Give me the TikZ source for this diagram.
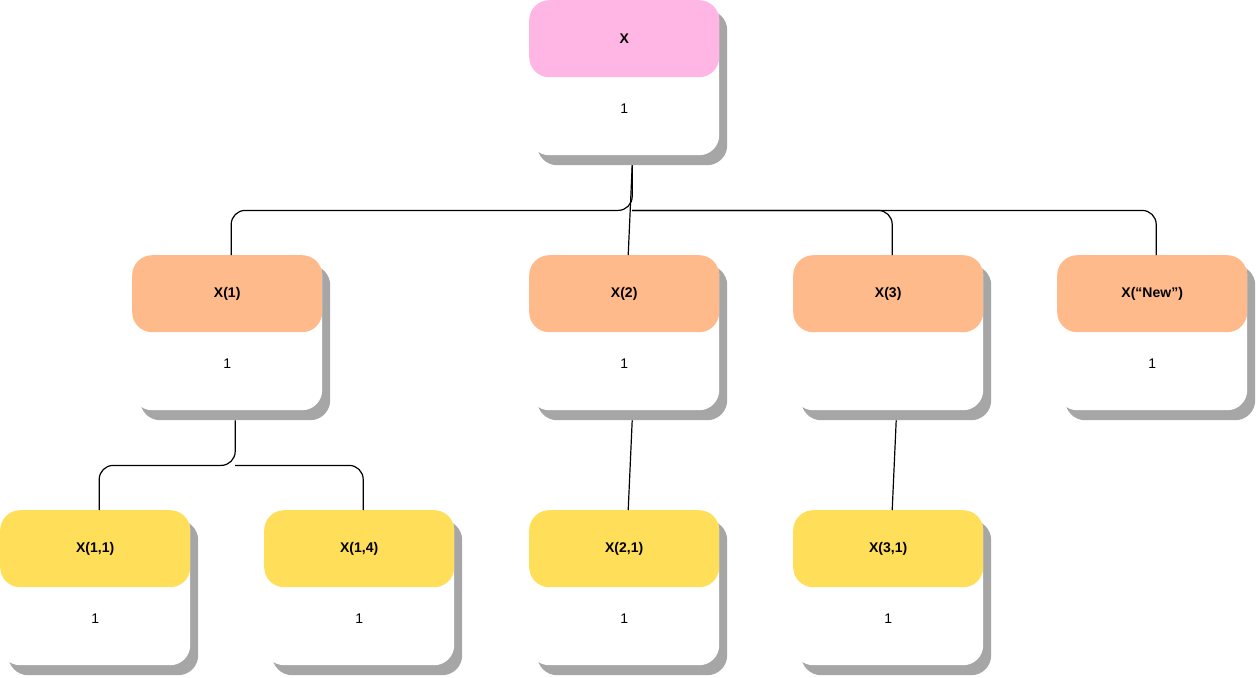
\documentclass[tikz,border=0pt]{standalone}
\usepackage{fontspec}
\setmainfont{Liberation Sans}
\usetikzlibrary{calc}
\definecolor{pinkh}{HTML}{FFB6E4}
\definecolor{orangeh}{HTML}{FFBA8C}
\definecolor{yellowh}{HTML}{FFDE59}
\definecolor{shadowc}{HTML}{A6A6A6}
\tikzset{
  x=1pt,y=-1pt,
  shadowbox/.style={fill=shadowc,draw=none,rounded corners=20pt,minimum width=190pt,minimum height=155pt,inner sep=0,anchor=north west},
  cardbox/.style={fill=white,draw=none,rounded corners=20pt,minimum width=190pt,minimum height=155pt,inner sep=0,anchor=north west},
  header/.style={fill=#1,draw=none,rounded corners=20pt,minimum width=190pt,minimum height=77pt,inner sep=0,anchor=north west,font=\fontsize{14}{16}\selectfont\bfseries},
  val/.style={font=\fontsize{14}{16}\selectfont},
  conn/.style={draw=black,line width=1.2pt,rounded corners=14pt}
}
\newcommand{\card}[5]{% name, x, y, color, title, value via #5
  \node[shadowbox] (s#1) at (#2+8,#3+10) {};
  \node[cardbox] (c#1) at (#2,#3) {};
  \node[header=#4] (h#1) at (#2,#3) {#5};
}
\begin{document}
\begin{tikzpicture}
\useasboundingbox (0,0) rectangle (1257,677);
\card{X}{529}{0}{pinkh}{X}
\card{A}{132}{255}{orangeh}{X(1)}
\card{B}{529}{255}{orangeh}{X(2)}
\card{C}{793}{255}{orangeh}{X(3)}
\card{D}{1057}{255}{orangeh}{X(“New”)}
\card{AA}{0}{510}{yellowh}{X(1,1)}
\card{AB}{264}{510}{yellowh}{X(1,4)}
\card{BA}{529}{510}{yellowh}{X(2,1)}
\card{CA}{793}{510}{yellowh}{X(3,1)}
\foreach \n in {X,A,B,D,AA,AB,BA,CA}{
  \node[val] (v\n) at ($(h\n.south)+(0,31)$) {1};
}
% connectors
\coordinate (jX) at ($(sX.south)+(0,45)$);
\draw[conn] (sX.south) -- (jX) -| ($(hA.north)+(4,0)$);
\draw[conn] (jX) -| ($(hC.north)+(4,0)$);
\draw[conn] (jX) -| ($(hD.north)+(4,0)$);
\draw[conn] (sX.south) -- ($(hB.north)+(4,0)$);
\coordinate (jA) at ($(sA.south)+(0,45)$);
\draw[conn] (sA.south) -- (jA) -| ($(hAA.north)+(4,0)$);
\draw[conn] (jA) -| ($(hAB.north)+(4,0)$);
\draw[conn] (sB.south) -- ($(hBA.north)+(4,0)$);
\draw[conn] (sC.south) -- ($(hCA.north)+(4,0)$);
\end{tikzpicture}
\end{document}
